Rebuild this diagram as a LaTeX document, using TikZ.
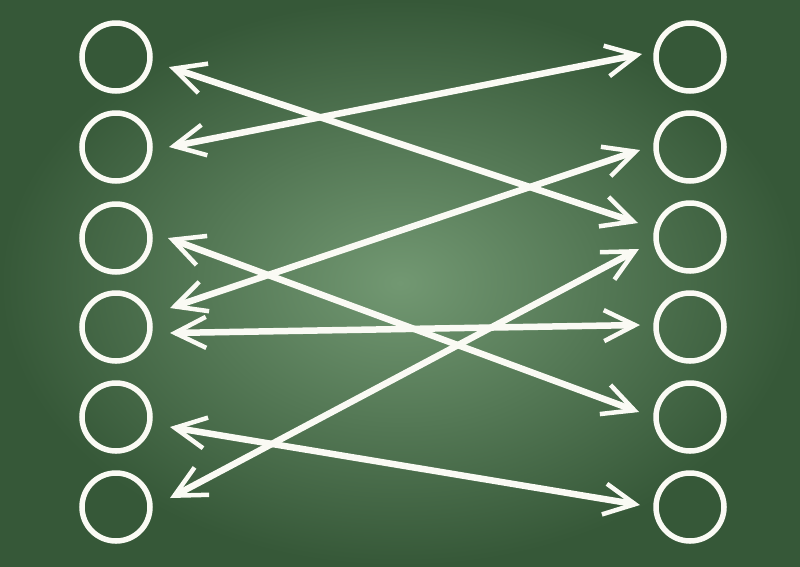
\documentclass[tikz,border=0pt]{standalone}
\usetikzlibrary{arrows.meta}
\definecolor{boardin}{RGB}{114,152,114}
\definecolor{boardout}{RGB}{54,88,56}
\definecolor{chalk}{RGB}{250,250,244}
\begin{document}
\begin{tikzpicture}[x=1pt,y=-1pt,
  circ/.style={circle, draw=chalk, line width=5.5pt, minimum size=68pt, inner sep=0pt},
  chalkbarb/.tip={Straight Barb[length=31pt,width=31pt,line width=4.5pt]},
  link/.style={draw=chalk, line width=6.5pt, line cap=round, {chalkbarb}-{chalkbarb}}]
\useasboundingbox (0,0) rectangle (800,566);
\shade[inner color=boardin, outer color=boardout] (0,0) rectangle (800,566);
% left column
\node[circ] (L1) at (116,57) {};
\node[circ] (L2) at (116,147) {};
\node[circ] (L3) at (116,238) {};
\node[circ] (L4) at (116,327) {};
\node[circ] (L5) at (116,417) {};
\node[circ] (L6) at (116,507) {};
% right column
\node[circ] (R1) at (690,57) {};
\node[circ] (R2) at (690,147) {};
\node[circ] (R3) at (690,237) {};
\node[circ] (R4) at (690,327) {};
\node[circ] (R5) at (690,417) {};
\node[circ] (R6) at (690,507) {};
% arrow ends
\coordinate (l1) at (169,67);
\coordinate (l2) at (169,147);
\coordinate (l3) at (168,238);
\coordinate (l4a) at (170,308);
\coordinate (l4b) at (170,333);
\coordinate (l5) at (170,427);
\coordinate (l6) at (170,498);
\coordinate (r1) at (642,54);
\coordinate (r2) at (640,150);
\coordinate (r3a) at (638,223);
\coordinate (r3b) at (639,249);
\coordinate (r4) at (640,325);
\coordinate (r5) at (639,412);
\coordinate (r6) at (640,505);
% connectors
\path[link] (l1) -- (r3a);
\path[link] (l2) -- (r1);
\path[link] (l3) -- (r5);
\path[link] (l4a) -- (r2);
\path[link] (l4b) -- (r4);
\path[link] (l5) -- (r6);
\path[link] (l6) -- (r3b);
\end{tikzpicture}
\end{document}
